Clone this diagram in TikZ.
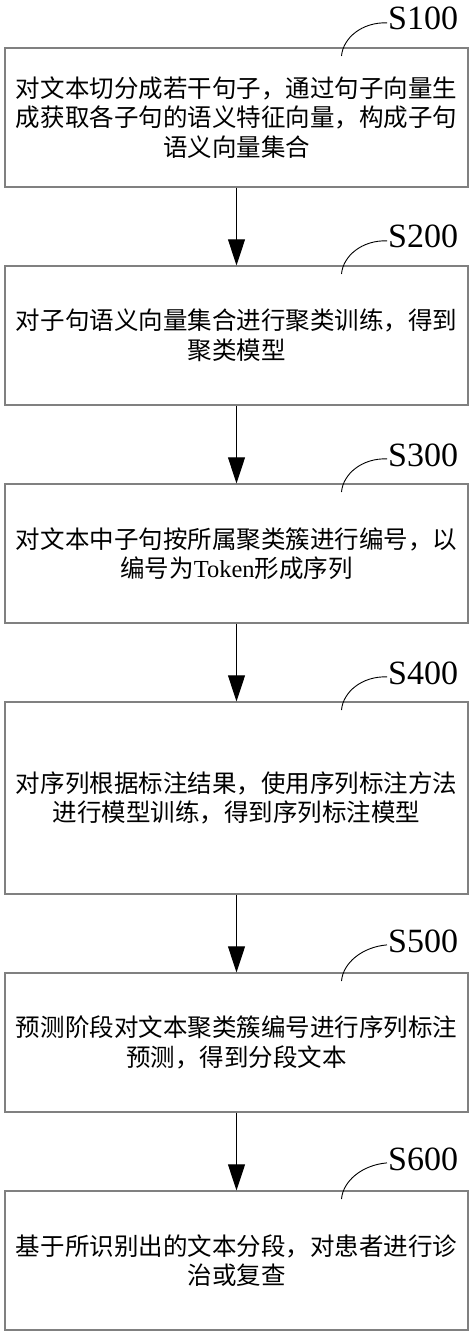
\documentclass[tikz,border=0pt]{standalone}
\usepackage{fontspec}
\setmainfont{Liberation Serif}
\newfontfamily\cjk{Noto Sans CJK SC}
\usetikzlibrary{arrows.meta}

\begin{document}
\begin{tikzpicture}[x=1pt,y=-1pt,% ------ Organigramme S100-S600 ----------------
    stepbox/.style={draw=black!50,line width=1.3pt,minimum width=463pt,minimum height=139pt,
      inner sep=0pt,align=center,font=\cjk\fontsize{24.5}{29.5}\selectfont},
    steplabel/.style={anchor=base west,inner sep=1pt,font=\fontsize{34}{34}\selectfont},
    arr/.style={-{Triangle[length=26pt,width=17pt]},line width=0.9pt},
    lead/.style={line width=0.9pt}]
    \useasboundingbox (0,0) rectangle (474,1337);
    \node [stepbox] (b1) at (236.5,117.5) {对文本切分成若干句子，通过句子向量生\\成获取各子句的语义特征向量，构成子句\\语义向量集合};
    \node [stepbox] (b2) at (236.5,335.5) {对子句语义向量集合进行聚类训练，得到\\聚类模型};
    \node [stepbox] (b3) at (236.5,553.5) {对文本中子句按所属聚类簇进行编号，以\\编号为\textrm{Token}形成序列};
    \node [stepbox,minimum height=192pt] (b4) at (236.5,798) {对序列根据标注结果，使用序列标注方法\\进行模型训练，得到序列标注模型};
    \node [stepbox] (b5) at (236.5,1042.5) {预测阶段对文本聚类簇编号进行序列标注\\预测，得到分段文本};
    \node [stepbox] (b6) at (236.5,1260.5) {基于所识别出的文本分段，对患者进行诊\\治或复查};
    \foreach \a/\b in {1/2,2/3,3/4,4/5,5/6}
      \draw [arr] (b\a) -- (b\b);
    % ------ labels ----------------
    \foreach \i/\t/\l in {1/48/30,2/266/248,3/484/466,4/702/684,5/973/952,6/1191/1170} {
      \node [steplabel] (s\i) at (387,\l) {S\i00};
      \coordinate (c\i) at (341.5,\t+8);
      \draw [lead] (c\i) .. controls (343,\t-10) and (362,\t-26) .. ([yshift=-4pt]s\i.west);
    }
\end{tikzpicture}
\end{document}
